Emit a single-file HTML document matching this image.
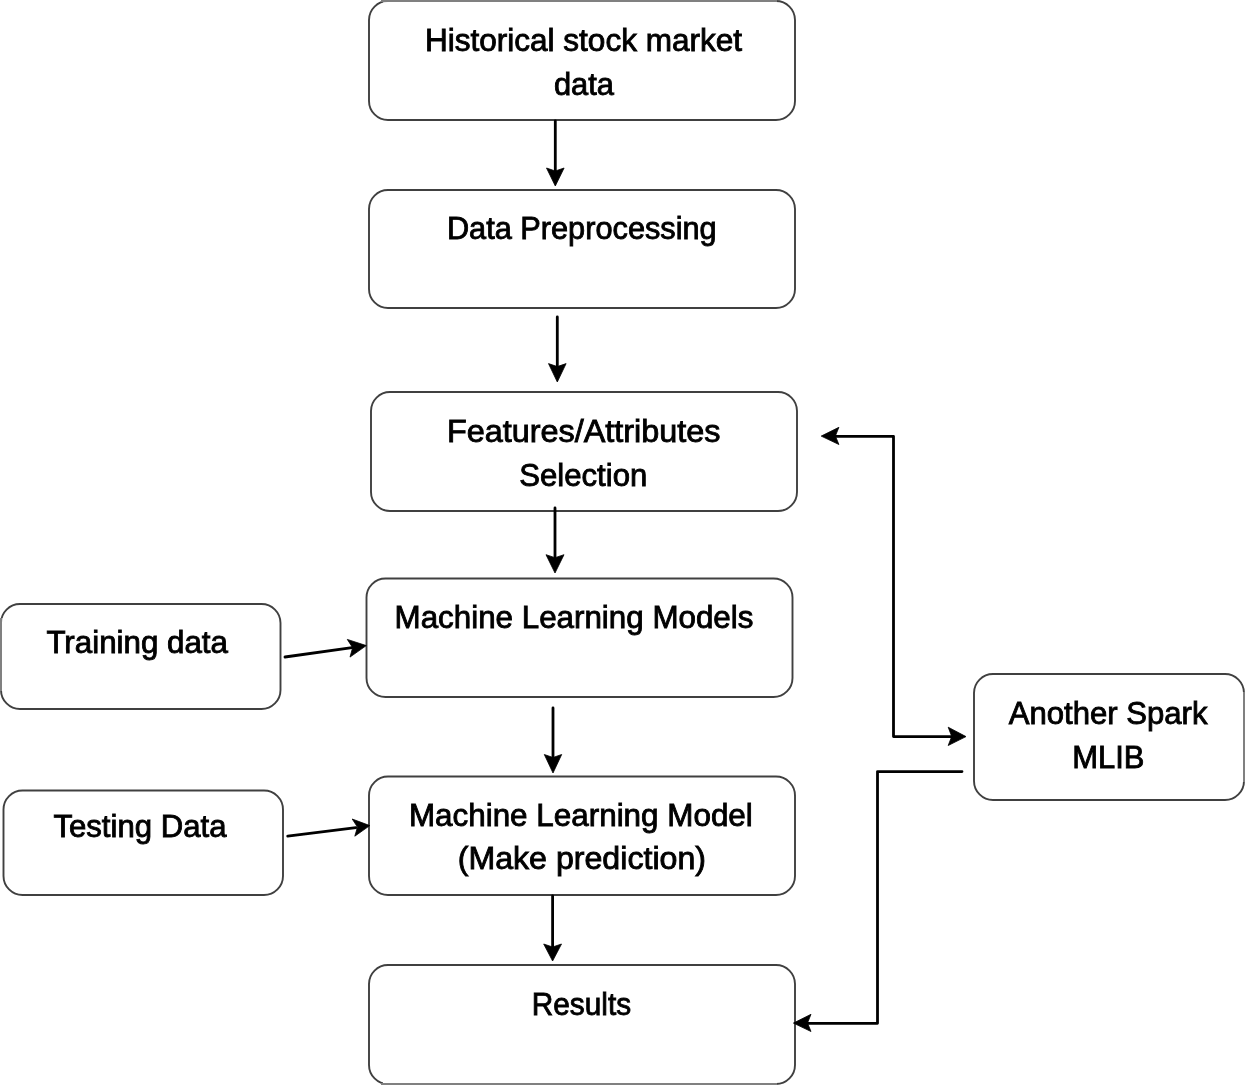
<!DOCTYPE html>
<html><head><meta charset="utf-8"><style>
html,body{margin:0;padding:0;background:#fff;}
body{width:1245px;height:1085px;overflow:hidden;}
svg{display:block;will-change:transform;}
text{font-family:"Liberation Sans",sans-serif;fill:#000;stroke:#000;stroke-width:0.85px;}
</style></head><body>
<svg width="1245" height="1085" viewBox="0 0 1245 1085">
<g fill="none" stroke="#404040" stroke-width="1.9">
<rect x="369.0" y="1.0" width="426.0" height="119.0" rx="19" ry="19"/>
<rect x="369.0" y="190.0" width="426.0" height="118.0" rx="19" ry="19"/>
<rect x="371.0" y="392.0" width="426.0" height="119.0" rx="19" ry="19"/>
<rect x="366.5" y="578.5" width="426.0" height="118.5" rx="19" ry="19"/>
<rect x="369.0" y="776.5" width="426.0" height="118.5" rx="19" ry="19"/>
<rect x="369.0" y="965.0" width="426.0" height="119.0" rx="19" ry="19"/>
<rect x="1.0" y="604.0" width="279.5" height="105.0" rx="19" ry="19"/>
<rect x="3.5" y="790.5" width="279.5" height="104.5" rx="19" ry="19"/>
<rect x="974.0" y="674.0" width="270.0" height="126.0" rx="19" ry="19"/>
</g>
<g fill="#fff" stroke="none"><rect x="383" y="-1" width="394" height="3.5"/><rect x="383" y="1082" width="394" height="4"/><rect x="-1" y="618" width="3.5" height="73"/><rect x="1242" y="692" width="4" height="90"/></g>
<g fill="#808080" stroke="none"><rect x="381" y="0" width="396" height="2"/><rect x="381" y="1083" width="396" height="2"/><rect x="0" y="618" width="2" height="73"/><rect x="1243" y="692" width="2" height="90"/></g>
<g stroke="#000" stroke-width="2.80" fill="none" stroke-linecap="round" stroke-linejoin="round">
<path d="M555.3 121 V172"/>
<path d="M557.3 317 V367"/>
<path d="M555 508 V558"/>
<path d="M553 708 V758"/>
<path d="M552.6 896 V948"/>
<path d="M285 657 L352 647.6"/>
<path d="M287.7 836.2 L356 827.6"/>
<path d="M835 436.3 H893.5 V736.6 H952"/>
<path d="M962 771.6 H877.5 V1023.3 H807"/>
</g>
<g fill="#000" stroke="#000" stroke-width="0.8" stroke-linejoin="round">
<path d="M546.50 168.00 L555.30 171.00 L564.10 168.00 L555.30 186.00 Z"/>
<path d="M548.50 363.60 L557.30 366.60 L566.10 363.60 L557.30 382.00 Z"/>
<path d="M546.00 554.70 L555.00 557.70 L564.00 554.70 L555.00 573.00 Z"/>
<path d="M544.30 754.50 L553.00 757.50 L561.70 754.50 L553.00 773.00 Z"/>
<path d="M543.70 944.00 L552.60 947.00 L561.50 944.00 L552.60 961.00 Z"/>
<path d="M347.30 639.40 L352.61 647.66 L350.00 657.10 L366.30 645.60 Z"/>
<path d="M352.20 819.00 L357.47 827.11 L354.80 836.20 L369.80 825.60 Z"/>
<path d="M838.90 427.30 L835.40 435.94 L838.90 444.50 L821.20 436.10 Z"/>
<path d="M948.20 727.20 L951.70 736.40 L948.20 745.50 L966.00 736.60 Z"/>
<path d="M811.00 1014.30 L807.50 1022.94 L811.00 1031.50 L793.40 1023.10 Z"/>
</g>
<text x="424.90" y="50.60" font-size="30.50" textLength="317.20" lengthAdjust="spacingAndGlyphs">Historical stock market</text>
<text x="553.90" y="95.00" font-size="30.50" textLength="60.00" lengthAdjust="spacingAndGlyphs">data</text>
<text x="446.90" y="238.80" font-size="30.50" textLength="269.80" lengthAdjust="spacingAndGlyphs">Data Preprocessing</text>
<text x="446.90" y="441.80" font-size="30.50" textLength="273.60" lengthAdjust="spacingAndGlyphs">Features/Attributes</text>
<text x="519.20" y="486.00" font-size="30.50" textLength="128.10" lengthAdjust="spacingAndGlyphs">Selection</text>
<text x="394.60" y="628.00" font-size="30.50" textLength="358.80" lengthAdjust="spacingAndGlyphs">Machine Learning Models</text>
<text x="46.40" y="653.20" font-size="30.50" textLength="181.60" lengthAdjust="spacingAndGlyphs">Training data</text>
<text x="1008.70" y="724.20" font-size="30.50" textLength="198.80" lengthAdjust="spacingAndGlyphs">Another Spark</text>
<text x="1072.20" y="767.60" font-size="30.50" textLength="72.20" lengthAdjust="spacingAndGlyphs">MLIB</text>
<text x="408.90" y="826.20" font-size="30.50" textLength="343.90" lengthAdjust="spacingAndGlyphs">Machine Learning Model</text>
<text x="457.70" y="869.30" font-size="30.50" textLength="248.30" lengthAdjust="spacingAndGlyphs">(Make prediction)</text>
<text x="53.40" y="837.40" font-size="30.50" textLength="173.10" lengthAdjust="spacingAndGlyphs">Testing Data</text>
<text x="531.80" y="1015.00" font-size="30.50" textLength="99.30" lengthAdjust="spacingAndGlyphs">Results</text>
</svg>
</body></html>
